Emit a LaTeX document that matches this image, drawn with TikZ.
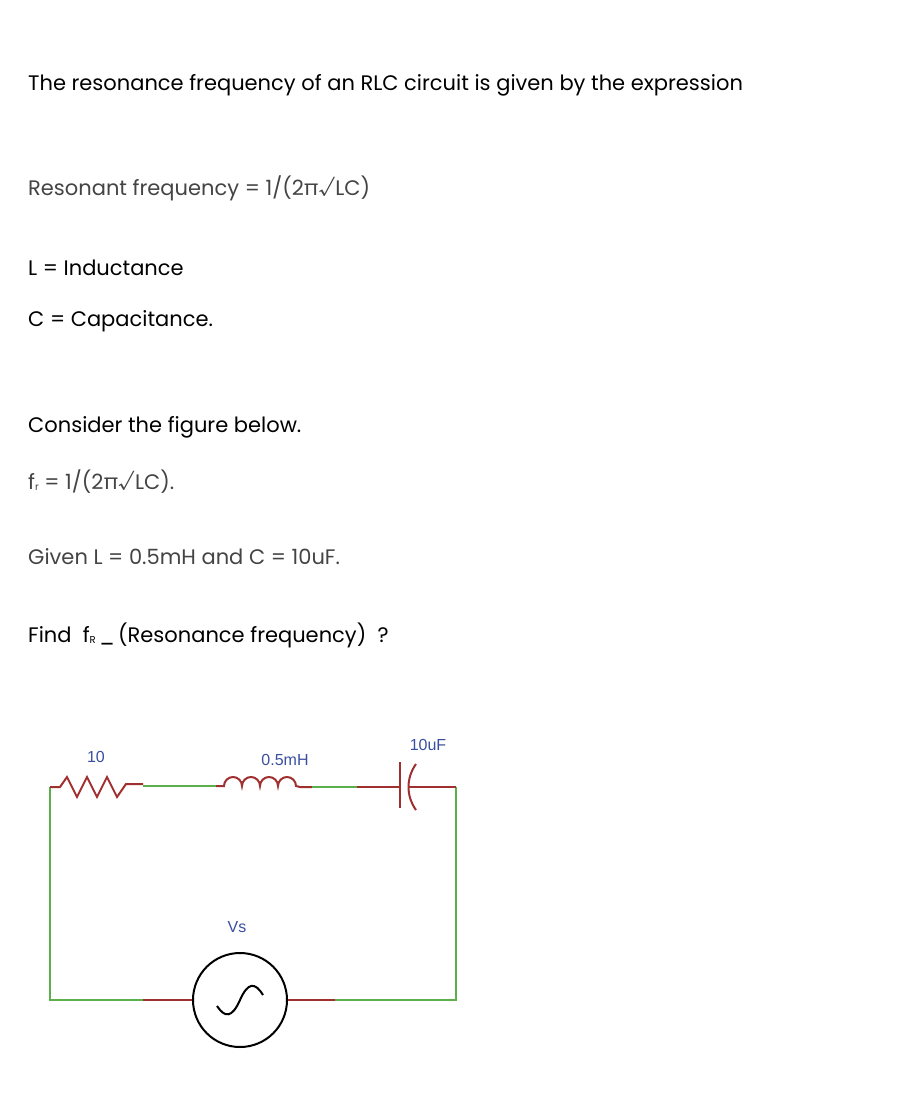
\documentclass[tikz,border=0pt]{standalone}
\usepackage{fontspec}
\setmainfont{Poppins}
\newfontfamily\lblfont{Liberation Sans}
\definecolor{gw}{HTML}{5CB04C}
\definecolor{rw}{HTML}{A03030}
\definecolor{tx}{HTML}{444444}
\definecolor{lb}{HTML}{3A4FA0}
\begin{document}
\begin{tikzpicture}[x=1pt,y=-1pt,
  txt/.style={anchor=west,inner sep=0pt,font=\fontsize{21}{24}\selectfont,text=tx},
  lbl/.style={inner sep=0pt,font=\lblfont\fontsize{16}{18}\selectfont,text=lb},
  gwire/.style={draw=gw,line width=2pt},
  rwire/.style={draw=rw,line width=2pt}]
\path[use as bounding box] (0,0) rectangle (912,1120);
\node[txt,text=black] (t1) at (28,85) {The resonance frequency of an RLC circuit is given by the expression};
\node[txt] (t2) at (28,188) {Resonant frequency = 1/(2π√LC)};
\node[txt,text=black] (t3) at (28,268) {L = Inductance};
\node[txt,text=black] (t4) at (28,321) {C = Capacitance.};
\node[txt,text=black] (t5) at (28,427) {Consider the figure below.};
\node[txt] (t6) at (28,482) {f\raisebox{-1pt}{\fontsize{10}{10}\selectfont r} = 1/(2π√LC).};
\node[txt] (t7) at (28,557) {Given L = 0.5mH and C = 10uF.};
\node[txt,text=black] (t8) at (28,635) {Find \ f\raisebox{-1pt}{\fontsize{10}{10}\selectfont R}\,\_\,(Resonance frequency) \ ?};
% circuit
\coordinate (tl) at (50,787); \coordinate (tr) at (456,787);
\coordinate (bl) at (50,1000); \coordinate (br) at (456,1000);
\draw[gwire] (tl) -- (bl) -- (143,1000);
\draw[gwire] (tr) -- (br) -- (335,1000);
\draw[rwire] (143,1000) -- (193,1000);
\draw[rwire] (287,1000) -- (335,1000);
\node[circle,draw=black,line width=2pt,minimum size=94pt,inner sep=0pt] (vs) at (240,1000) {};
\draw[line width=2pt] (217,1006) .. controls (225,1018) and (232,1018) .. (240,1000) .. controls (248,982) and (255,982) .. (263,995);
\node[lbl] (vsl) at (237,927) {Vs};
% top wire
\draw[rwire] (tl) -- (60,787) -- (67,777) -- (77,797) -- (87,777) -- (97,797) -- (107,777) -- (117,797) -- (126,784) -- (143,784);
\draw[gwire] (143,786) -- (216,786);
\draw[rwire] (216,786) -- (224,786) arc[start angle=180,end angle=0,radius=9pt] arc[start angle=180,end angle=0,radius=9pt] arc[start angle=180,end angle=0,radius=9pt] arc[start angle=180,end angle=0,radius=9pt] -- (300,787) -- (312,787);
\draw[gwire] (312,787) -- (357,787);
\draw[rwire] (357,787) -- (400,787);
\draw[rwire] (400,762) -- (400,808);
\draw[rwire] (416,764) .. controls (406,778) and (406,796) .. (416,810);
\draw[rwire] (408,787) -- (tr);
\node[lbl] (rl) at (96,757) {10};
\node[lbl] (ll) at (285,760) {0.5mH};
\node[lbl] (cl) at (428,745) {10uF};
\end{tikzpicture}
\end{document}
